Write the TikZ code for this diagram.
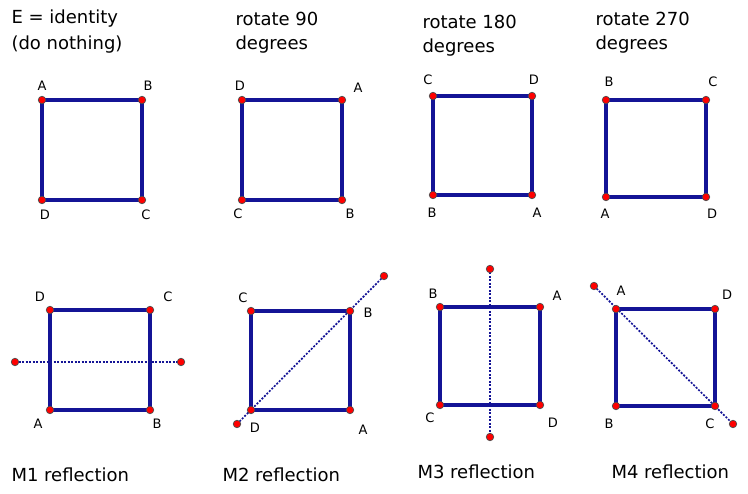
\documentclass[tikz,border=0pt]{standalone}
\usepackage{fontspec}
\setmainfont{DejaVu Sans}
\begin{document}
\begin{tikzpicture}[x=1pt,y=-1pt,
    side/.style={draw={rgb,255:red,20;green,20;blue,150}, line width=3.4pt, line join=round},
    axis/.style={draw={rgb,255:red,20;green,20;blue,150}, line width=1.7pt, dash pattern=on 2pt off 1.5pt},
    dot/.style={circle, fill=red, draw=black!70, line width=0.7pt, inner sep=0pt, minimum size=7.5pt},
    lbl/.style={font=\fontsize{13}{15}\selectfont},
    title/.style={font=\fontsize{18}{22}\selectfont, anchor=west}]
\useasboundingbox (0,0) rectangle (748,494);
% titles
\node[title] (t1a) at (8,19) {E = identity};
\node[title] (t1b) at (8,45) {(do nothing)};
\node[title] (t2a) at (232,19) {rotate 90};
\node[title] (t2b) at (232,45) {degrees};
\node[title] (t3a) at (419,22) {rotate 180};
\node[title] (t3b) at (419,48) {degrees};
\node[title] (t4a) at (592,19) {rotate 270};
\node[title] (t4b) at (592,45) {degrees};
\node[title] (m1) at (8,475) {M1 reflection};
\node[title] (m2) at (219,475) {M2 reflection};
\node[title] (m3) at (414,472) {M3 reflection};
\node[title] (m4) at (608,472) {M4 reflection};
% squares
\foreach \n/\x/\y/\w/\h in {1/42/100/100/100, 2/242/100/100/100, 3/433/96/99/99, 4/606/100/100/97,
                            5/50/310/100/100, 6/251/311/99/99, 7/440/307/100/98, 8/616/309/99/97} {
  \coordinate (p\n a) at (\x,\y);
  \coordinate (p\n b) at (\x+\w,\y);
  \coordinate (p\n c) at (\x+\w,\y+\h);
  \coordinate (p\n d) at (\x,\y+\h);
  \draw[side] (p\n a) -- (p\n b) -- (p\n c) -- (p\n d) -- cycle;
}
% reflection axes
\coordinate (l1) at (15,362);  \coordinate (r1) at (181,362);
\coordinate (l2) at (237,424); \coordinate (r2) at (384,276);
\coordinate (l3) at (490,269); \coordinate (r3) at (490,437);
\coordinate (l4) at (594,286); \coordinate (r4) at (733,424);
\foreach \n in {1,...,4} {
  \draw[axis] (l\n) -- (r\n);
  \node[dot] at (l\n) {};
  \node[dot] at (r\n) {};
}
\foreach \n in {1,...,8} {
  \foreach \k in {a,b,c,d} \node[dot] at (p\n\k) {};
}
% corner labels
\node[lbl] (q1a) at (42,86) {A};  \node[lbl] (q1b) at (148,86) {B};
\node[lbl] (q1d) at (45,215) {D}; \node[lbl] (q1c) at (146,215) {C};
\node[lbl] (q2d) at (240,86) {D}; \node[lbl] (q2a) at (358,88) {A};
\node[lbl] (q2c) at (238,214) {C}; \node[lbl] (q2b) at (350,214) {B};
\node[lbl] (q3c) at (428,80) {C}; \node[lbl] (q3d) at (534,80) {D};
\node[lbl] (q3b) at (432,213) {B}; \node[lbl] (q3a) at (537,213) {A};
\node[lbl] (q4b) at (609,82) {B}; \node[lbl] (q4c) at (713,82) {C};
\node[lbl] (q4a) at (605,214) {A}; \node[lbl] (q4d) at (712,214) {D};
\node[lbl] (q5d) at (40,297) {D}; \node[lbl] (q5c) at (168,297) {C};
\node[lbl] (q5a) at (38,424) {A}; \node[lbl] (q5b) at (157,424) {B};
\node[lbl] (q6c) at (243,298) {C}; \node[lbl] (q6b) at (368,313) {B};
\node[lbl] (q6d) at (255,428) {D}; \node[lbl] (q6a) at (363,430) {A};
\node[lbl] (q7b) at (433,294) {B}; \node[lbl] (q7a) at (557,296) {A};
\node[lbl] (q7c) at (430,418) {C}; \node[lbl] (q7d) at (553,423) {D};
\node[lbl] (q8a) at (621,291) {A}; \node[lbl] (q8d) at (727,295) {D};
\node[lbl] (q8b) at (609,424) {B}; \node[lbl] (q8c) at (710,424) {C};
\end{tikzpicture}
\end{document}
